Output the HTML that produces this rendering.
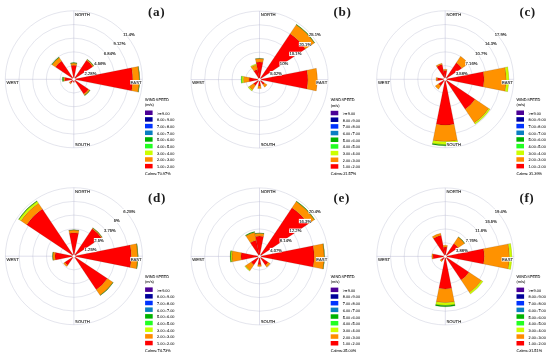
<!DOCTYPE html>
<html lang="en"><head><meta charset="utf-8"><title>Wind roses</title>
<style>
html,body{margin:0;padding:0;background:#fff;}
body{width:550px;height:360px;overflow:hidden;}
svg{display:block;}
.t text{font-family:"Liberation Sans",sans-serif;font-size:4.2px;fill:#111;stroke:#111;stroke-width:0.08px;text-rendering:geometricPrecision;}
.lg text{font-family:"Liberation Sans",sans-serif;font-size:3.85px;fill:#222;stroke:#222;stroke-width:0.06px;word-spacing:-0.5px;text-rendering:geometricPrecision;}
.tag{font-family:"Liberation Serif",serif;font-size:13.2px;font-weight:bold;fill:#1c1c1c;letter-spacing:0.6px;}
</style></head><body>
<svg width="550" height="360" viewBox="0 0 550 360">
<rect width="550" height="360" fill="#fff"/>
<g class="chart">
<g fill="none" stroke="#bcbed2" stroke-width="0.4">
<circle cx="73.8" cy="79.3" r="13.70"/>
<circle cx="73.8" cy="79.3" r="27.40"/>
<circle cx="73.8" cy="79.3" r="41.10"/>
<circle cx="73.8" cy="79.3" r="54.80"/>
<circle cx="73.8" cy="79.3" r="68.50"/>
<path stroke="#adafcc" d="M5.299999999999997 79.3H142.3M73.8 10.799999999999997V147.8"/>
</g>
<g stroke="#4a2000" stroke-opacity="0.75" stroke-width="0.2" stroke-linejoin="miter">
<path d="M73.80 79.30L71.07 65.57A14.00 14.00 0 0 1 76.53 65.57Z" fill="#ff0000"/>
<path d="M71.07 65.57L70.64 63.41A16.20 16.20 0 0 1 76.96 63.41L76.53 65.57A14.00 14.00 0 0 0 71.07 65.57Z" fill="#ff9200"/>
<path d="M70.64 63.41L70.54 62.92A16.70 16.70 0 0 1 77.06 62.92L76.96 63.41A16.20 16.20 0 0 0 70.64 63.41Z" fill="#00aa00"/>
<path d="M73.80 79.30L86.47 60.34A22.80 22.80 0 0 1 92.76 66.63Z" fill="#ff0000"/>
<path d="M86.47 60.34L87.02 59.51A23.80 23.80 0 0 1 93.59 66.08L92.76 66.63A22.80 22.80 0 0 0 86.47 60.34Z" fill="#ff9200"/>
<path d="M87.02 59.51L87.24 59.18A24.20 24.20 0 0 1 93.92 65.86L93.59 66.08A23.80 23.80 0 0 0 87.02 59.51Z" fill="#00aa00"/>
<path d="M73.80 79.30L131.67 67.79A59.00 59.00 0 0 1 131.67 90.81Z" fill="#ff0000"/>
<path d="M131.67 67.79L138.14 66.50A65.60 65.60 0 0 1 138.14 92.10L131.67 90.81A59.00 59.00 0 0 0 131.67 67.79Z" fill="#ff9200"/>
<path d="M138.14 66.50L138.53 66.42A66.00 66.00 0 0 1 138.53 92.18L138.14 92.10A65.60 65.60 0 0 0 138.14 66.50Z" fill="#00aa00"/>
<path d="M73.80 79.30L88.60 89.19A17.80 17.80 0 0 1 83.69 94.10Z" fill="#ff0000"/>
<path d="M88.60 89.19L89.85 90.02A19.30 19.30 0 0 1 84.52 95.35L83.69 94.10A17.80 17.80 0 0 0 88.60 89.19Z" fill="#ff9200"/>
<path d="M89.85 90.02L90.26 90.30A19.80 19.80 0 0 1 84.80 95.76L84.52 95.35A19.30 19.30 0 0 0 89.85 90.02Z" fill="#00aa00"/>
<path d="M73.80 79.30L74.39 82.24A3.00 3.00 0 0 1 73.21 82.24Z" fill="#ff0000"/>
<path d="M73.80 79.30L71.30 83.04A4.50 4.50 0 0 1 70.06 81.80Z" fill="#ff0000"/>
<path d="M71.30 83.04L70.63 84.04A5.70 5.70 0 0 1 69.06 82.47L70.06 81.80A4.50 4.50 0 0 0 71.30 83.04Z" fill="#ff9200"/>
<path d="M73.80 79.30L65.17 81.02A8.80 8.80 0 0 1 65.17 77.58Z" fill="#ff0000"/>
<path d="M65.17 81.02L63.70 81.31A10.30 10.30 0 0 1 63.70 77.29L65.17 77.58A8.80 8.80 0 0 0 65.17 81.02Z" fill="#ff9200"/>
<path d="M63.70 81.31L62.52 81.54A11.50 11.50 0 0 1 62.52 77.06L63.70 77.29A10.30 10.30 0 0 0 63.70 81.31Z" fill="#00aa00"/>
<path d="M73.80 79.30L55.51 67.08A22.00 22.00 0 0 1 61.58 61.01Z" fill="#ff0000"/>
<path d="M55.51 67.08L52.02 64.74A26.20 26.20 0 0 1 59.24 57.52L61.58 61.01A22.00 22.00 0 0 0 55.51 67.08Z" fill="#ff9200"/>
<path d="M52.02 64.74L51.60 64.47A26.70 26.70 0 0 1 58.97 57.10L59.24 57.52A26.20 26.20 0 0 0 52.02 64.74Z" fill="#00aa00"/>
</g>
<circle cx="73.8" cy="79.3" r="1.7" fill="#fff" stroke="#b33" stroke-width="0.3"/>
<g class="t">
<rect x="84.09" y="70.81" width="12.13" height="4.4" fill="#fff"/>
<text x="84.49" y="74.51">2.28%</text>
<rect x="93.77" y="61.13" width="12.13" height="4.4" fill="#fff"/>
<text x="94.17" y="64.83">4.56%</text>
<rect x="103.46" y="51.44" width="12.13" height="4.4" fill="#fff"/>
<text x="103.86" y="55.14">6.84%</text>
<rect x="113.15" y="41.75" width="12.13" height="4.4" fill="#fff"/>
<text x="113.55" y="45.45">9.12%</text>
<rect x="122.84" y="32.06" width="12.13" height="4.4" fill="#fff"/>
<text x="123.24" y="35.76">11.4%</text>
<text x="75.00" y="16.10">NORTH</text>
<rect x="74.70" y="142.00" width="14.6" height="4.3" fill="#fff"/>
<text x="75.00" y="145.60">SOUTH</text>
<rect x="130.10" y="80.00" width="11.6" height="4.4" fill="#fff"/>
<text x="141.50" y="83.70" text-anchor="end">EAST</text>
<text x="6.50" y="83.70">WEST</text>
</g>
<g class="lg">
<text x="145.00" y="100.80">WIND SPEED</text>
<text x="145.00" y="106.30">(m/s)</text>
<rect x="145.00" y="110.50" width="7.6" height="4.5" fill="#4b0096"/>
<text x="157.00" y="114.70">&gt;= 9.00</text>
<rect x="145.00" y="117.17" width="7.6" height="4.5" fill="#00009a"/>
<text x="157.00" y="121.38">8.00 - 9.00</text>
<rect x="145.00" y="123.85" width="7.6" height="4.5" fill="#0033ff"/>
<text x="157.00" y="128.05">7.00 - 8.00</text>
<rect x="145.00" y="130.53" width="7.6" height="4.5" fill="#0a7ec2"/>
<text x="157.00" y="134.72">6.00 - 7.00</text>
<rect x="145.00" y="137.20" width="7.6" height="4.5" fill="#00b400"/>
<text x="157.00" y="141.40">5.00 - 6.00</text>
<rect x="145.00" y="143.88" width="7.6" height="4.5" fill="#22ff22"/>
<text x="157.00" y="148.07">4.00 - 5.00</text>
<rect x="145.00" y="150.55" width="7.6" height="4.5" fill="#ccff00"/>
<text x="157.00" y="154.75">3.00 - 4.00</text>
<rect x="145.00" y="157.22" width="7.6" height="4.5" fill="#ff8c00"/>
<text x="157.00" y="161.42">2.00 - 3.00</text>
<rect x="145.00" y="163.90" width="7.6" height="4.5" fill="#ff0000"/>
<text x="157.00" y="168.10">1.00 - 2.00</text>
<text x="145.00" y="174.90">Calms: 70.97%</text>
</g>
<text class="tag" x="148.0" y="16.4">(a)</text>
</g>
<g class="chart">
<g fill="none" stroke="#bcbed2" stroke-width="0.4">
<circle cx="259.5" cy="79.6" r="13.70"/>
<circle cx="259.5" cy="79.6" r="27.40"/>
<circle cx="259.5" cy="79.6" r="41.10"/>
<circle cx="259.5" cy="79.6" r="54.80"/>
<circle cx="259.5" cy="79.6" r="68.50"/>
<path stroke="#adafcc" d="M191.0 79.6H328.0M259.5 11.099999999999994V148.1"/>
</g>
<g stroke="#4a2000" stroke-opacity="0.75" stroke-width="0.2" stroke-linejoin="miter">
<path d="M259.50 79.60L256.05 62.24A17.70 17.70 0 0 1 262.95 62.24Z" fill="#ff0000"/>
<path d="M256.05 62.24L255.40 59.00A21.00 21.00 0 0 1 263.60 59.00L262.95 62.24A17.70 17.70 0 0 0 256.05 62.24Z" fill="#ff9200"/>
<path d="M255.40 59.00L255.34 58.71A21.30 21.30 0 0 1 263.66 58.71L263.60 59.00A21.00 21.00 0 0 0 255.40 59.00Z" fill="#00aa00"/>
<path d="M259.50 79.60L290.17 33.70A55.20 55.20 0 0 1 305.40 48.93Z" fill="#ff0000"/>
<path d="M290.17 33.70L296.22 24.64A66.10 66.10 0 0 1 314.46 42.88L305.40 48.93A55.20 55.20 0 0 0 290.17 33.70Z" fill="#ff9200"/>
<path d="M296.22 24.64L296.45 24.31A66.50 66.50 0 0 1 314.79 42.65L314.46 42.88A66.10 66.10 0 0 0 296.22 24.64Z" fill="#00aa00"/>
<path d="M259.50 79.60L306.97 70.16A48.40 48.40 0 0 1 306.97 89.04Z" fill="#ff0000"/>
<path d="M306.97 70.16L316.29 68.30A57.90 57.90 0 0 1 316.29 90.90L306.97 89.04A48.40 48.40 0 0 0 306.97 70.16Z" fill="#ff9200"/>
<path d="M259.50 79.60L264.49 82.93A6.00 6.00 0 0 1 262.83 84.59Z" fill="#ff0000"/>
<path d="M264.49 82.93L267.07 84.66A9.10 9.10 0 0 1 264.56 87.17L262.83 84.59A6.00 6.00 0 0 0 264.49 82.93Z" fill="#ff9200"/>
<path d="M259.50 79.60L260.73 85.78A6.30 6.30 0 0 1 258.27 85.78Z" fill="#ff0000"/>
<path d="M260.73 85.78L261.26 88.43A9.00 9.00 0 0 1 257.74 88.43L258.27 85.78A6.30 6.30 0 0 0 260.73 85.78Z" fill="#ff9200"/>
<path d="M259.50 79.60L255.50 85.59A7.20 7.20 0 0 1 253.51 83.60Z" fill="#ff0000"/>
<path d="M255.50 85.59L252.56 89.99A12.50 12.50 0 0 1 249.11 86.54L253.51 83.60A7.20 7.20 0 0 0 255.50 85.59Z" fill="#ff9200"/>
<path d="M252.56 89.99L251.89 90.99A13.70 13.70 0 0 1 248.11 87.21L249.11 86.54A12.50 12.50 0 0 0 252.56 89.99Z" fill="#ccff00"/>
<path d="M259.50 79.60L249.30 81.63A10.40 10.40 0 0 1 249.30 77.57Z" fill="#ff0000"/>
<path d="M249.30 81.63L243.71 82.74A16.10 16.10 0 0 1 243.71 76.46L249.30 77.57A10.40 10.40 0 0 0 249.30 81.63Z" fill="#ff9200"/>
<path d="M243.71 82.74L242.14 83.05A17.70 17.70 0 0 1 242.14 76.15L243.71 76.46A16.10 16.10 0 0 0 243.71 82.74Z" fill="#ccff00"/>
<path d="M242.14 83.05L241.36 83.21A18.50 18.50 0 0 1 241.36 75.99L242.14 76.15A17.70 17.70 0 0 0 242.14 83.05Z" fill="#33ff33"/>
<path d="M259.50 79.60L253.83 71.12A10.20 10.20 0 0 1 257.51 69.60Z" fill="#ff0000"/>
<path d="M253.83 71.12L251.17 67.13A15.00 15.00 0 0 1 256.57 64.89L257.51 69.60A10.20 10.20 0 0 0 253.83 71.12Z" fill="#ff9200"/>
<path d="M251.17 67.13L250.61 66.30A16.00 16.00 0 0 1 256.38 63.91L256.57 64.89A15.00 15.00 0 0 0 251.17 67.13Z" fill="#ccff00"/>
</g>
<circle cx="259.5" cy="79.6" r="1.7" fill="#fff" stroke="#b33" stroke-width="0.3"/>
<g class="t">
<rect x="269.79" y="71.11" width="12.13" height="4.4" fill="#fff"/>
<text x="270.19" y="74.81">5.02%</text>
<rect x="279.47" y="61.43" width="8.80" height="4.4" fill="#fff"/>
<text x="279.87" y="65.13">10%</text>
<rect x="289.16" y="51.74" width="12.13" height="4.4" fill="#fff"/>
<text x="289.56" y="55.44">15.1%</text>
<rect x="298.85" y="42.05" width="12.13" height="4.4" fill="#fff"/>
<text x="299.25" y="45.75">20.1%</text>
<rect x="308.54" y="32.36" width="12.13" height="4.4" fill="#fff"/>
<text x="308.94" y="36.06">25.1%</text>
<text x="260.70" y="16.40">NORTH</text>
<rect x="260.40" y="142.30" width="14.6" height="4.3" fill="#fff"/>
<text x="260.70" y="145.90">SOUTH</text>
<rect x="315.80" y="80.30" width="11.6" height="4.4" fill="#fff"/>
<text x="327.20" y="84.00" text-anchor="end">EAST</text>
<text x="192.20" y="84.00">WEST</text>
</g>
<g class="lg">
<text x="330.70" y="101.10">WIND SPEED</text>
<text x="330.70" y="106.60">(m/s)</text>
<rect x="330.70" y="110.80" width="7.6" height="4.5" fill="#4b0096"/>
<text x="342.70" y="115.00">&gt;= 9.00</text>
<rect x="330.70" y="117.47" width="7.6" height="4.5" fill="#00009a"/>
<text x="342.70" y="121.67">8.00 - 9.00</text>
<rect x="330.70" y="124.15" width="7.6" height="4.5" fill="#0033ff"/>
<text x="342.70" y="128.35">7.00 - 8.00</text>
<rect x="330.70" y="130.82" width="7.6" height="4.5" fill="#0a7ec2"/>
<text x="342.70" y="135.02">6.00 - 7.00</text>
<rect x="330.70" y="137.50" width="7.6" height="4.5" fill="#00b400"/>
<text x="342.70" y="141.70">5.00 - 6.00</text>
<rect x="330.70" y="144.18" width="7.6" height="4.5" fill="#22ff22"/>
<text x="342.70" y="148.38">4.00 - 5.00</text>
<rect x="330.70" y="150.85" width="7.6" height="4.5" fill="#ccff00"/>
<text x="342.70" y="155.05">3.00 - 4.00</text>
<rect x="330.70" y="157.53" width="7.6" height="4.5" fill="#ff8c00"/>
<text x="342.70" y="161.72">2.00 - 3.00</text>
<rect x="330.70" y="164.20" width="7.6" height="4.5" fill="#ff0000"/>
<text x="342.70" y="168.40">1.00 - 2.00</text>
<text x="330.70" y="175.20">Calms: 21.57%</text>
</g>
<text class="tag" x="333.5" y="16.4">(b)</text>
</g>
<g class="chart">
<g fill="none" stroke="#bcbed2" stroke-width="0.4">
<circle cx="445.2" cy="79.3" r="13.70"/>
<circle cx="445.2" cy="79.3" r="27.40"/>
<circle cx="445.2" cy="79.3" r="41.10"/>
<circle cx="445.2" cy="79.3" r="54.80"/>
<circle cx="445.2" cy="79.3" r="68.50"/>
<path stroke="#adafcc" d="M376.7 79.3H513.7M445.2 10.799999999999997V147.8"/>
</g>
<g stroke="#4a2000" stroke-opacity="0.75" stroke-width="0.2" stroke-linejoin="miter">
<path d="M445.20 79.30L436.76 66.66A15.20 15.20 0 0 1 442.23 64.39Z" fill="#ff0000"/>
<path d="M436.76 66.66L436.09 65.66A16.40 16.40 0 0 1 442.00 63.22L442.23 64.39A15.20 15.20 0 0 0 436.76 66.66Z" fill="#ff9200"/>
<path d="M445.20 79.30L443.46 70.57A8.90 8.90 0 0 1 446.94 70.57Z" fill="#ff0000"/>
<path d="M443.46 70.57L443.25 69.49A10.00 10.00 0 0 1 447.15 69.49L446.94 70.57A8.90 8.90 0 0 0 443.46 70.57Z" fill="#ff9200"/>
<path d="M445.20 79.30L456.31 62.67A20.00 20.00 0 0 1 461.83 68.19Z" fill="#ff0000"/>
<path d="M456.31 62.67L460.59 56.27A27.70 27.70 0 0 1 468.23 63.91L461.83 68.19A20.00 20.00 0 0 0 456.31 62.67Z" fill="#ff9200"/>
<path d="M445.20 79.30L483.45 71.69A39.00 39.00 0 0 1 483.45 86.91Z" fill="#ff0000"/>
<path d="M483.45 71.69L505.13 67.38A61.10 61.10 0 0 1 505.13 91.22L483.45 86.91A39.00 39.00 0 0 0 483.45 71.69Z" fill="#ff9200"/>
<path d="M505.13 67.38L507.68 66.87A63.70 63.70 0 0 1 507.68 91.73L505.13 91.22A61.10 61.10 0 0 0 505.13 67.38Z" fill="#ccff00"/>
<path d="M445.20 79.30L475.13 99.30A36.00 36.00 0 0 1 465.20 109.23Z" fill="#ff0000"/>
<path d="M475.13 99.30L488.85 108.47A52.50 52.50 0 0 1 474.37 122.95L465.20 109.23A36.00 36.00 0 0 0 475.13 99.30Z" fill="#ff9200"/>
<path d="M488.85 108.47L490.10 109.30A54.00 54.00 0 0 1 475.20 124.20L474.37 122.95A52.50 52.50 0 0 0 488.85 108.47Z" fill="#ccff00"/>
<path d="M445.20 79.30L454.14 124.22A45.80 45.80 0 0 1 436.26 124.22Z" fill="#ff0000"/>
<path d="M454.14 124.22L457.35 140.40A62.30 62.30 0 0 1 433.05 140.40L436.26 124.22A45.80 45.80 0 0 0 454.14 124.22Z" fill="#ff9200"/>
<path d="M457.35 140.40L457.98 143.54A65.50 65.50 0 0 1 432.42 143.54L433.05 140.40A62.30 62.30 0 0 0 457.35 140.40Z" fill="#ccff00"/>
<path d="M457.98 143.54L458.17 144.52A66.50 66.50 0 0 1 432.23 144.52L432.42 143.54A65.50 65.50 0 0 0 457.98 143.54Z" fill="#00aa00"/>
<path d="M445.20 79.30L440.76 85.95A8.00 8.00 0 0 1 438.55 83.74Z" fill="#ff0000"/>
<path d="M440.76 85.95L438.53 89.28A12.00 12.00 0 0 1 435.22 85.97L438.55 83.74A8.00 8.00 0 0 0 440.76 85.95Z" fill="#ff9200"/>
<path d="M445.20 79.30L437.45 80.84A7.90 7.90 0 0 1 437.45 77.76Z" fill="#ff0000"/>
<path d="M437.45 80.84L436.18 81.09A9.20 9.20 0 0 1 436.18 77.51L437.45 77.76A7.90 7.90 0 0 0 437.45 80.84Z" fill="#ff9200"/>
</g>
<circle cx="445.2" cy="79.3" r="1.7" fill="#fff" stroke="#b33" stroke-width="0.3"/>
<g class="t">
<rect x="455.49" y="70.81" width="12.13" height="4.4" fill="#fff"/>
<text x="455.89" y="74.51">3.58%</text>
<rect x="465.17" y="61.13" width="12.13" height="4.4" fill="#fff"/>
<text x="465.57" y="64.83">7.16%</text>
<rect x="474.86" y="51.44" width="12.13" height="4.4" fill="#fff"/>
<text x="475.26" y="55.14">10.7%</text>
<rect x="484.55" y="41.75" width="12.13" height="4.4" fill="#fff"/>
<text x="484.95" y="45.45">14.3%</text>
<rect x="494.24" y="32.06" width="12.13" height="4.4" fill="#fff"/>
<text x="494.64" y="35.76">17.9%</text>
<text x="446.40" y="16.10">NORTH</text>
<rect x="446.10" y="142.00" width="14.6" height="4.3" fill="#fff"/>
<text x="446.40" y="145.60">SOUTH</text>
<rect x="501.50" y="80.00" width="11.6" height="4.4" fill="#fff"/>
<text x="512.90" y="83.70" text-anchor="end">EAST</text>
<text x="377.90" y="83.70">WEST</text>
</g>
<g class="lg">
<text x="516.40" y="100.80">WIND SPEED</text>
<text x="516.40" y="106.30">(m/s)</text>
<rect x="516.40" y="110.50" width="7.6" height="4.5" fill="#4b0096"/>
<text x="528.40" y="114.70">&gt;= 9.00</text>
<rect x="516.40" y="117.17" width="7.6" height="4.5" fill="#00009a"/>
<text x="528.40" y="121.38">8.00 - 9.00</text>
<rect x="516.40" y="123.85" width="7.6" height="4.5" fill="#0033ff"/>
<text x="528.40" y="128.05">7.00 - 8.00</text>
<rect x="516.40" y="130.53" width="7.6" height="4.5" fill="#0a7ec2"/>
<text x="528.40" y="134.72">6.00 - 7.00</text>
<rect x="516.40" y="137.20" width="7.6" height="4.5" fill="#00b400"/>
<text x="528.40" y="141.40">5.00 - 6.00</text>
<rect x="516.40" y="143.88" width="7.6" height="4.5" fill="#22ff22"/>
<text x="528.40" y="148.07">4.00 - 5.00</text>
<rect x="516.40" y="150.55" width="7.6" height="4.5" fill="#ccff00"/>
<text x="528.40" y="154.75">3.00 - 4.00</text>
<rect x="516.40" y="157.22" width="7.6" height="4.5" fill="#ff8c00"/>
<text x="528.40" y="161.42">2.00 - 3.00</text>
<rect x="516.40" y="163.90" width="7.6" height="4.5" fill="#ff0000"/>
<text x="528.40" y="168.10">1.00 - 2.00</text>
<text x="516.40" y="174.90">Calms: 31.39%</text>
</g>
<text class="tag" x="519.4" y="16.4">(c)</text>
</g>
<g class="chart">
<g fill="none" stroke="#bcbed2" stroke-width="0.4">
<circle cx="73.9" cy="256.2" r="13.70"/>
<circle cx="73.9" cy="256.2" r="27.40"/>
<circle cx="73.9" cy="256.2" r="41.10"/>
<circle cx="73.9" cy="256.2" r="54.80"/>
<circle cx="73.9" cy="256.2" r="68.50"/>
<path stroke="#adafcc" d="M5.400000000000006 256.2H142.4M73.9 187.7V324.7"/>
</g>
<g stroke="#4a2000" stroke-opacity="0.75" stroke-width="0.2" stroke-linejoin="miter">
<path d="M73.90 256.20L69.33 233.25A23.40 23.40 0 0 1 78.47 233.25Z" fill="#ff0000"/>
<path d="M69.33 233.25L68.81 230.60A26.10 26.10 0 0 1 78.99 230.60L78.47 233.25A23.40 23.40 0 0 0 69.33 233.25Z" fill="#ff9200"/>
<path d="M68.81 230.60L68.73 230.21A26.50 26.50 0 0 1 79.07 230.21L78.99 230.60A26.10 26.10 0 0 0 68.81 230.60Z" fill="#00aa00"/>
<path d="M73.90 256.20L92.23 228.76A33.00 33.00 0 0 1 101.34 237.87Z" fill="#ff0000"/>
<path d="M92.23 228.76L92.73 228.01A33.90 33.90 0 0 1 102.09 237.37L101.34 237.87A33.00 33.00 0 0 0 92.23 228.76Z" fill="#ff9200"/>
<path d="M92.73 228.01L92.90 227.76A34.20 34.20 0 0 1 102.34 237.20L102.09 237.37A33.90 33.90 0 0 0 92.73 228.01Z" fill="#00aa00"/>
<path d="M73.90 256.20L130.20 245.00A57.40 57.40 0 0 1 130.20 267.40Z" fill="#ff0000"/>
<path d="M130.20 245.00L136.57 243.73A63.90 63.90 0 0 1 136.57 268.67L130.20 267.40A57.40 57.40 0 0 0 130.20 245.00Z" fill="#ff9200"/>
<path d="M136.57 243.73L136.96 243.66A64.30 64.30 0 0 1 136.96 268.74L136.57 268.67A63.90 63.90 0 0 0 136.57 243.73Z" fill="#00aa00"/>
<path d="M73.90 256.20L107.41 278.59A40.30 40.30 0 0 1 96.29 289.71Z" fill="#ff0000"/>
<path d="M107.41 278.59L112.98 282.31A47.00 47.00 0 0 1 100.01 295.28L96.29 289.71A40.30 40.30 0 0 0 107.41 278.59Z" fill="#ff9200"/>
<path d="M112.98 282.31L113.31 282.53A47.40 47.40 0 0 1 100.23 295.61L100.01 295.28A47.00 47.00 0 0 0 112.98 282.31Z" fill="#00aa00"/>
<path d="M73.90 256.20L67.79 265.35A11.00 11.00 0 0 1 64.75 262.31Z" fill="#ff0000"/>
<path d="M67.79 265.35L66.96 266.59A12.50 12.50 0 0 1 63.51 263.14L64.75 262.31A11.00 11.00 0 0 0 67.79 265.35Z" fill="#ff9200"/>
<path d="M73.90 256.20L55.36 259.89A18.90 18.90 0 0 1 55.36 252.51Z" fill="#ff0000"/>
<path d="M55.36 259.89L53.30 260.30A21.00 21.00 0 0 1 53.30 252.10L55.36 252.51A18.90 18.90 0 0 0 55.36 259.89Z" fill="#ff9200"/>
<path d="M53.30 260.30L52.91 260.37A21.40 21.40 0 0 1 52.91 252.03L53.30 252.10A21.00 21.00 0 0 0 53.30 260.30Z" fill="#00aa00"/>
<path d="M73.90 256.20L26.67 224.64A56.80 56.80 0 0 1 42.34 208.97Z" fill="#ff0000"/>
<path d="M26.67 224.64L20.85 220.75A63.80 63.80 0 0 1 38.45 203.15L42.34 208.97A56.80 56.80 0 0 0 26.67 224.64Z" fill="#ff9200"/>
<path d="M20.85 220.75L18.86 219.42A66.20 66.20 0 0 1 37.12 201.16L38.45 203.15A63.80 63.80 0 0 0 20.85 220.75Z" fill="#ccff00"/>
<path d="M18.86 219.42L18.52 219.20A66.60 66.60 0 0 1 36.90 200.82L37.12 201.16A66.20 66.20 0 0 0 18.86 219.42Z" fill="#00aa00"/>
</g>
<circle cx="73.9" cy="256.2" r="1.7" fill="#fff" stroke="#b33" stroke-width="0.3"/>
<g class="t">
<rect x="84.19" y="247.71" width="12.13" height="4.4" fill="#fff"/>
<text x="84.59" y="251.41">1.25%</text>
<rect x="93.87" y="238.03" width="9.91" height="4.4" fill="#fff"/>
<text x="94.27" y="241.73">2.5%</text>
<rect x="103.56" y="228.34" width="12.13" height="4.4" fill="#fff"/>
<text x="103.96" y="232.04">3.75%</text>
<rect x="113.25" y="218.65" width="6.58" height="4.4" fill="#fff"/>
<text x="113.65" y="222.35">5%</text>
<rect x="122.94" y="208.96" width="12.13" height="4.4" fill="#fff"/>
<text x="123.34" y="212.66">6.25%</text>
<text x="75.10" y="193.00">NORTH</text>
<rect x="74.80" y="318.90" width="14.6" height="4.3" fill="#fff"/>
<text x="75.10" y="322.50">SOUTH</text>
<rect x="130.20" y="256.90" width="11.6" height="4.4" fill="#fff"/>
<text x="141.60" y="260.60" text-anchor="end">EAST</text>
<text x="6.60" y="260.60">WEST</text>
</g>
<g class="lg">
<text x="145.10" y="277.70">WIND SPEED</text>
<text x="145.10" y="283.20">(m/s)</text>
<rect x="145.10" y="287.40" width="7.6" height="4.5" fill="#4b0096"/>
<text x="157.10" y="291.60">&gt;= 9.00</text>
<rect x="145.10" y="294.07" width="7.6" height="4.5" fill="#00009a"/>
<text x="157.10" y="298.27">8.00 - 9.00</text>
<rect x="145.10" y="300.75" width="7.6" height="4.5" fill="#0033ff"/>
<text x="157.10" y="304.95">7.00 - 8.00</text>
<rect x="145.10" y="307.42" width="7.6" height="4.5" fill="#0a7ec2"/>
<text x="157.10" y="311.62">6.00 - 7.00</text>
<rect x="145.10" y="314.10" width="7.6" height="4.5" fill="#00b400"/>
<text x="157.10" y="318.30">5.00 - 6.00</text>
<rect x="145.10" y="320.77" width="7.6" height="4.5" fill="#22ff22"/>
<text x="157.10" y="324.97">4.00 - 5.00</text>
<rect x="145.10" y="327.45" width="7.6" height="4.5" fill="#ccff00"/>
<text x="157.10" y="331.65">3.00 - 4.00</text>
<rect x="145.10" y="334.12" width="7.6" height="4.5" fill="#ff8c00"/>
<text x="157.10" y="338.32">2.00 - 3.00</text>
<rect x="145.10" y="340.80" width="7.6" height="4.5" fill="#ff0000"/>
<text x="157.10" y="345.00">1.00 - 2.00</text>
<text x="145.10" y="351.80">Calms: 74.73%</text>
</g>
<text class="tag" x="148.0" y="201.5">(d)</text>
</g>
<g class="chart">
<g fill="none" stroke="#bcbed2" stroke-width="0.4">
<circle cx="259.5" cy="256.4" r="13.70"/>
<circle cx="259.5" cy="256.4" r="27.40"/>
<circle cx="259.5" cy="256.4" r="41.10"/>
<circle cx="259.5" cy="256.4" r="54.80"/>
<circle cx="259.5" cy="256.4" r="68.50"/>
<path stroke="#adafcc" d="M191.0 256.4H328.0M259.5 187.89999999999998V324.9"/>
</g>
<g stroke="#4a2000" stroke-opacity="0.75" stroke-width="0.2" stroke-linejoin="miter">
<path d="M259.50 256.40L250.33 242.68A16.50 16.50 0 0 1 256.28 240.22Z" fill="#ff0000"/>
<path d="M250.33 242.68L245.78 235.86A24.70 24.70 0 0 1 254.68 232.17L256.28 240.22A16.50 16.50 0 0 0 250.33 242.68Z" fill="#ff9200"/>
<path d="M245.78 235.86L245.39 235.28A25.40 25.40 0 0 1 254.54 231.49L254.68 232.17A24.70 24.70 0 0 0 245.78 235.86Z" fill="#00aa00"/>
<path d="M259.50 256.40L255.52 236.39A20.40 20.40 0 0 1 263.48 236.39Z" fill="#ff0000"/>
<path d="M255.52 236.39L254.97 233.65A23.20 23.20 0 0 1 264.03 233.65L263.48 236.39A20.40 20.40 0 0 0 255.52 236.39Z" fill="#ff9200"/>
<path d="M254.97 233.65L254.92 233.35A23.50 23.50 0 0 1 264.08 233.35L264.03 233.65A23.20 23.20 0 0 0 254.97 233.65Z" fill="#00aa00"/>
<path d="M259.50 256.40L292.00 207.76A58.50 58.50 0 0 1 308.14 223.90Z" fill="#ff0000"/>
<path d="M292.00 207.76L296.22 201.44A66.10 66.10 0 0 1 314.46 219.68L308.14 223.90A58.50 58.50 0 0 0 292.00 207.76Z" fill="#ff9200"/>
<path d="M296.22 201.44L296.45 201.11A66.50 66.50 0 0 1 314.79 219.45L314.46 219.68A66.10 66.10 0 0 0 296.22 201.44Z" fill="#00aa00"/>
<path d="M259.50 256.40L313.15 245.73A54.70 54.70 0 0 1 313.15 267.07Z" fill="#ff0000"/>
<path d="M313.15 245.73L323.05 243.76A64.80 64.80 0 0 1 323.05 269.04L313.15 267.07A54.70 54.70 0 0 0 313.15 245.73Z" fill="#ff9200"/>
<path d="M323.05 243.76L323.35 243.70A65.10 65.10 0 0 1 323.35 269.10L323.05 269.04A64.80 64.80 0 0 0 323.05 243.76Z" fill="#00aa00"/>
<path d="M259.50 256.40L268.23 262.23A10.50 10.50 0 0 1 265.33 265.13Z" fill="#ff0000"/>
<path d="M268.23 262.23L270.31 263.62A13.00 13.00 0 0 1 266.72 267.21L265.33 265.13A10.50 10.50 0 0 0 268.23 262.23Z" fill="#ff9200"/>
<path d="M259.50 256.40L261.14 264.64A8.40 8.40 0 0 1 257.86 264.64Z" fill="#ff0000"/>
<path d="M261.14 264.64L261.45 266.21A10.00 10.00 0 0 1 257.55 266.21L257.86 264.64A8.40 8.40 0 0 0 261.14 264.64Z" fill="#ff9200"/>
<path d="M259.50 256.40L253.83 264.88A10.20 10.20 0 0 1 251.02 262.07Z" fill="#ff0000"/>
<path d="M253.83 264.88L250.06 270.53A17.00 17.00 0 0 1 245.37 265.84L251.02 262.07A10.20 10.20 0 0 0 253.83 264.88Z" fill="#ff9200"/>
<path d="M250.06 270.53L249.67 271.12A17.70 17.70 0 0 1 244.78 266.23L245.37 265.84A17.00 17.00 0 0 0 250.06 270.53Z" fill="#ccff00"/>
<path d="M259.50 256.40L241.36 260.01A18.50 18.50 0 0 1 241.36 252.79Z" fill="#ff0000"/>
<path d="M241.36 260.01L232.43 261.78A27.60 27.60 0 0 1 232.43 251.02L241.36 252.79A18.50 18.50 0 0 0 241.36 260.01Z" fill="#ff9200"/>
<path d="M232.43 261.78L231.35 262.00A28.70 28.70 0 0 1 231.35 250.80L232.43 251.02A27.60 27.60 0 0 0 232.43 261.78Z" fill="#ccff00"/>
<path d="M231.35 262.00L230.66 262.14A29.40 29.40 0 0 1 230.66 250.66L231.35 250.80A28.70 28.70 0 0 0 231.35 262.00Z" fill="#00aa00"/>
</g>
<circle cx="259.5" cy="256.4" r="1.7" fill="#fff" stroke="#b33" stroke-width="0.3"/>
<g class="t">
<rect x="269.79" y="247.91" width="12.13" height="4.4" fill="#fff"/>
<text x="270.19" y="251.61">4.07%</text>
<rect x="279.47" y="238.23" width="12.13" height="4.4" fill="#fff"/>
<text x="279.87" y="241.93">8.14%</text>
<rect x="289.16" y="228.54" width="12.13" height="4.4" fill="#fff"/>
<text x="289.56" y="232.24">12.2%</text>
<rect x="298.85" y="218.85" width="12.13" height="4.4" fill="#fff"/>
<text x="299.25" y="222.55">16.3%</text>
<rect x="308.54" y="209.16" width="12.13" height="4.4" fill="#fff"/>
<text x="308.94" y="212.86">20.4%</text>
<text x="260.70" y="193.20">NORTH</text>
<rect x="260.40" y="319.10" width="14.6" height="4.3" fill="#fff"/>
<text x="260.70" y="322.70">SOUTH</text>
<rect x="315.80" y="257.10" width="11.6" height="4.4" fill="#fff"/>
<text x="327.20" y="260.80" text-anchor="end">EAST</text>
<text x="192.20" y="260.80">WEST</text>
</g>
<g class="lg">
<text x="330.70" y="277.90">WIND SPEED</text>
<text x="330.70" y="283.40">(m/s)</text>
<rect x="330.70" y="287.60" width="7.6" height="4.5" fill="#4b0096"/>
<text x="342.70" y="291.80">&gt;= 9.00</text>
<rect x="330.70" y="294.27" width="7.6" height="4.5" fill="#00009a"/>
<text x="342.70" y="298.47">8.00 - 9.00</text>
<rect x="330.70" y="300.95" width="7.6" height="4.5" fill="#0033ff"/>
<text x="342.70" y="305.15">7.00 - 8.00</text>
<rect x="330.70" y="307.62" width="7.6" height="4.5" fill="#0a7ec2"/>
<text x="342.70" y="311.82">6.00 - 7.00</text>
<rect x="330.70" y="314.30" width="7.6" height="4.5" fill="#00b400"/>
<text x="342.70" y="318.50">5.00 - 6.00</text>
<rect x="330.70" y="320.97" width="7.6" height="4.5" fill="#22ff22"/>
<text x="342.70" y="325.17">4.00 - 5.00</text>
<rect x="330.70" y="327.65" width="7.6" height="4.5" fill="#ccff00"/>
<text x="342.70" y="331.85">3.00 - 4.00</text>
<rect x="330.70" y="334.32" width="7.6" height="4.5" fill="#ff8c00"/>
<text x="342.70" y="338.52">2.00 - 3.00</text>
<rect x="330.70" y="341.00" width="7.6" height="4.5" fill="#ff0000"/>
<text x="342.70" y="345.20">1.00 - 2.00</text>
<text x="330.70" y="352.00">Calms: 25.00%</text>
</g>
<text class="tag" x="333.5" y="201.5">(e)</text>
</g>
<g class="chart">
<g fill="none" stroke="#bcbed2" stroke-width="0.4">
<circle cx="445.3" cy="256.4" r="13.70"/>
<circle cx="445.3" cy="256.4" r="27.40"/>
<circle cx="445.3" cy="256.4" r="41.10"/>
<circle cx="445.3" cy="256.4" r="54.80"/>
<circle cx="445.3" cy="256.4" r="68.50"/>
<path stroke="#adafcc" d="M376.8 256.4H513.8M445.3 187.89999999999998V324.9"/>
</g>
<g stroke="#4a2000" stroke-opacity="0.75" stroke-width="0.2" stroke-linejoin="miter">
<path d="M445.30 256.40L433.36 238.52A21.50 21.50 0 0 1 441.11 235.31Z" fill="#ff0000"/>
<path d="M433.36 238.52L432.19 236.78A23.60 23.60 0 0 1 440.70 233.25L441.11 235.31A21.50 21.50 0 0 0 433.36 238.52Z" fill="#ff9200"/>
<path d="M445.30 256.40L443.49 247.28A9.30 9.30 0 0 1 447.11 247.28Z" fill="#ff0000"/>
<path d="M443.49 247.28L443.13 245.51A11.10 11.10 0 0 1 447.47 245.51L447.11 247.28A9.30 9.30 0 0 0 443.49 247.28Z" fill="#ff9200"/>
<path d="M445.30 256.40L453.91 243.51A15.50 15.50 0 0 1 458.19 247.79Z" fill="#ff0000"/>
<path d="M453.91 243.51L458.19 237.11A23.20 23.20 0 0 1 464.59 243.51L458.19 247.79A15.50 15.50 0 0 0 453.91 243.51Z" fill="#ff9200"/>
<path d="M458.19 237.11L458.36 236.86A23.50 23.50 0 0 1 464.84 243.34L464.59 243.51A23.20 23.20 0 0 0 458.19 237.11Z" fill="#00aa00"/>
<path d="M445.30 256.40L483.55 248.79A39.00 39.00 0 0 1 483.55 264.01Z" fill="#ff0000"/>
<path d="M483.55 248.79L508.27 243.88A64.20 64.20 0 0 1 508.27 268.92L483.55 264.01A39.00 39.00 0 0 0 483.55 248.79Z" fill="#ff9200"/>
<path d="M508.27 243.88L510.62 243.41A66.60 66.60 0 0 1 510.62 269.39L508.27 268.92A64.20 64.20 0 0 0 508.27 243.88Z" fill="#ccff00"/>
<path d="M445.30 256.40L469.00 272.23A28.50 28.50 0 0 1 461.13 280.10Z" fill="#ff0000"/>
<path d="M469.00 272.23L481.47 280.57A43.50 43.50 0 0 1 469.47 292.57L461.13 280.10A28.50 28.50 0 0 0 469.00 272.23Z" fill="#ff9200"/>
<path d="M481.47 280.57L482.97 281.57A45.30 45.30 0 0 1 470.47 294.07L469.47 292.57A43.50 43.50 0 0 0 481.47 280.57Z" fill="#ccff00"/>
<path d="M445.30 256.40L451.66 288.37A32.60 32.60 0 0 1 438.94 288.37Z" fill="#ff0000"/>
<path d="M451.66 288.37L454.33 301.81A46.30 46.30 0 0 1 436.27 301.81L438.94 288.37A32.60 32.60 0 0 0 451.66 288.37Z" fill="#ff9200"/>
<path d="M454.33 301.81L454.88 304.56A49.10 49.10 0 0 1 435.72 304.56L436.27 301.81A46.30 46.30 0 0 0 454.33 301.81Z" fill="#ccff00"/>
<path d="M454.88 304.56L455.13 305.83A50.40 50.40 0 0 1 435.47 305.83L435.72 304.56A49.10 49.10 0 0 0 454.88 304.56Z" fill="#00aa00"/>
<path d="M445.30 256.40L442.52 260.56A5.00 5.00 0 0 1 441.14 259.18Z" fill="#ff0000"/>
<path d="M442.52 260.56L441.74 261.72A6.40 6.40 0 0 1 439.98 259.96L441.14 259.18A5.00 5.00 0 0 0 442.52 260.56Z" fill="#ff9200"/>
<path d="M445.30 256.40L433.24 258.80A12.30 12.30 0 0 1 433.24 254.00Z" fill="#ff0000"/>
<path d="M433.24 258.80L432.16 259.01A13.40 13.40 0 0 1 432.16 253.79L433.24 254.00A12.30 12.30 0 0 0 433.24 258.80Z" fill="#ff9200"/>
</g>
<circle cx="445.3" cy="256.4" r="1.7" fill="#fff" stroke="#b33" stroke-width="0.3"/>
<g class="t">
<rect x="455.59" y="247.91" width="12.13" height="4.4" fill="#fff"/>
<text x="455.99" y="251.61">3.88%</text>
<rect x="465.27" y="238.23" width="12.13" height="4.4" fill="#fff"/>
<text x="465.67" y="241.93">7.76%</text>
<rect x="474.96" y="228.54" width="12.13" height="4.4" fill="#fff"/>
<text x="475.36" y="232.24">11.6%</text>
<rect x="484.65" y="218.85" width="12.13" height="4.4" fill="#fff"/>
<text x="485.05" y="222.55">15.5%</text>
<rect x="494.34" y="209.16" width="12.13" height="4.4" fill="#fff"/>
<text x="494.74" y="212.86">19.4%</text>
<text x="446.50" y="193.20">NORTH</text>
<rect x="446.20" y="319.10" width="14.6" height="4.3" fill="#fff"/>
<text x="446.50" y="322.70">SOUTH</text>
<rect x="501.60" y="257.10" width="11.6" height="4.4" fill="#fff"/>
<text x="513.00" y="260.80" text-anchor="end">EAST</text>
<text x="378.00" y="260.80">WEST</text>
</g>
<g class="lg">
<text x="516.50" y="277.90">WIND SPEED</text>
<text x="516.50" y="283.40">(m/s)</text>
<rect x="516.50" y="287.60" width="7.6" height="4.5" fill="#4b0096"/>
<text x="528.50" y="291.80">&gt;= 9.00</text>
<rect x="516.50" y="294.27" width="7.6" height="4.5" fill="#00009a"/>
<text x="528.50" y="298.47">8.00 - 9.00</text>
<rect x="516.50" y="300.95" width="7.6" height="4.5" fill="#0033ff"/>
<text x="528.50" y="305.15">7.00 - 8.00</text>
<rect x="516.50" y="307.62" width="7.6" height="4.5" fill="#0a7ec2"/>
<text x="528.50" y="311.82">6.00 - 7.00</text>
<rect x="516.50" y="314.30" width="7.6" height="4.5" fill="#00b400"/>
<text x="528.50" y="318.50">5.00 - 6.00</text>
<rect x="516.50" y="320.97" width="7.6" height="4.5" fill="#22ff22"/>
<text x="528.50" y="325.17">4.00 - 5.00</text>
<rect x="516.50" y="327.65" width="7.6" height="4.5" fill="#ccff00"/>
<text x="528.50" y="331.85">3.00 - 4.00</text>
<rect x="516.50" y="334.32" width="7.6" height="4.5" fill="#ff8c00"/>
<text x="528.50" y="338.52">2.00 - 3.00</text>
<rect x="516.50" y="341.00" width="7.6" height="4.5" fill="#ff0000"/>
<text x="528.50" y="345.20">1.00 - 2.00</text>
<text x="516.50" y="352.00">Calms: 31.51%</text>
</g>
<text class="tag" x="519.4" y="201.5">(f)</text>
</g>
</svg>
</body></html>
